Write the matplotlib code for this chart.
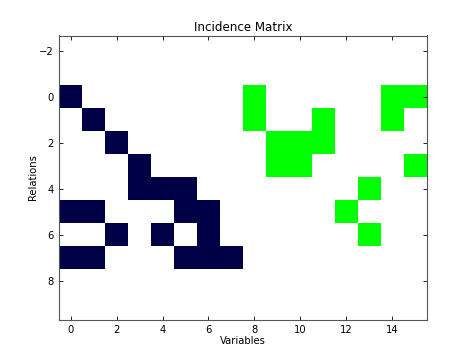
import numpy as np
import matplotlib
matplotlib.use("Agg")
import matplotlib.pyplot as plt
from matplotlib.colors import ListedColormap

# 1 = dark cells (variables 0-7), 2 = green cells (variables 8-15)
row0 = [1, 0, 0, 0, 0, 0, 0, 0, 2, 0, 0, 0, 0, 0, 2, 2]
row1 = [0, 1, 0, 0, 0, 0, 0, 0, 2, 0, 0, 2, 0, 0, 2, 0]
row2 = [0, 0, 1, 0, 0, 0, 0, 0, 0, 2, 2, 2, 0, 0, 0, 0]
row3 = [0, 0, 0, 1, 0, 0, 0, 0, 0, 2, 2, 0, 0, 0, 0, 2]
row4 = [0, 0, 0, 1, 1, 1, 0, 0, 0, 0, 0, 0, 0, 2, 0, 0]
row5 = [1, 1, 0, 0, 0, 1, 1, 0, 0, 0, 0, 0, 2, 0, 0, 0]
row6 = [0, 0, 1, 0, 1, 0, 1, 0, 0, 0, 0, 0, 0, 2, 0, 0]
row7 = [1, 1, 0, 0, 0, 1, 1, 1, 0, 0, 0, 0, 0, 0, 0, 0]
matrix = np.array([row0, row1, row2, row3, row4, row5, row6, row7])

title = "Incidence Matrix"
xlabel = "Variables"
ylabel = "Relations"

cmap = ListedColormap(["#ffffff", "#000046", "#00ff00"])

W, H = 4.74, 3.55
rect = [0.125, 0.1, 0.775, 0.8]
fig = plt.figure(figsize=(W, H), dpi=100)
ax = fig.add_axes(rect)
ax.imshow(matrix, cmap=cmap, vmin=0, vmax=2, interpolation="nearest")
ax.set_aspect("auto")

# equal aspect, data centred vertically in the box (datalim behaviour)
nrows, ncols = matrix.shape
box_ratio = (rect[3] * H) / (rect[2] * W)
half_h = 0.5 * ncols * box_ratio
cy = (nrows - 1) / 2.0
ax.set_xlim(-0.5, ncols - 0.5)
ax.set_ylim(cy + half_h, cy - half_h)

ax.set_xticks(np.arange(0, 16, 2))
ax.set_yticks(np.arange(-2, 10, 2))
ax.tick_params(direction="in", top=True, right=True, length=3, width=0.6,
               labelsize=7.2, pad=4)
for s in ax.spines.values():
    s.set_linewidth(0.8)
    s.set_color("#555555")

ax.set_title(title, fontsize=8.6, pad=3)
ax.set_xlabel(xlabel, fontsize=7.2, labelpad=1)
ax.set_ylabel(ylabel, fontsize=7.2, labelpad=1)

fig.savefig("out.png", dpi=100)
